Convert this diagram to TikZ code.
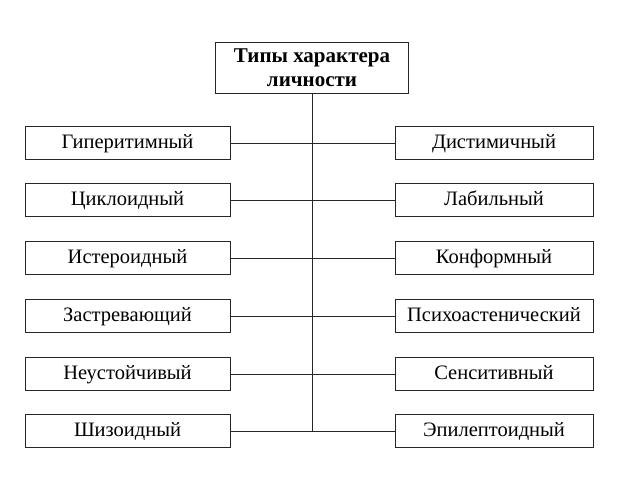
\documentclass[tikz,border=0pt]{standalone}
\usepackage{fontspec}
\setmainfont{Liberation Serif}
\begin{document}
\begin{tikzpicture}[x=1pt,y=-1pt,
  typebox/.style={draw=black!85,line width=1pt,minimum width=205pt,minimum height=33pt,inner sep=0pt,text height=14pt,text depth=3pt,font=\fontsize{20.5}{24}\selectfont},
  rtypebox/.style={typebox,minimum width=198pt},
  link/.style={draw=black!85,line width=0.9pt}]
\useasboundingbox (0,0) rectangle (622,488);
\node[draw=black!85,line width=1pt,minimum width=193pt,minimum height=51pt,align=center,inner sep=0pt,font=\bfseries\fontsize{21}{24}\selectfont] (top) at (312,67.5) {Типы характера\\личности};
\node[typebox] (l1) at (127.5,143) {Гиперитимный};
\node[typebox] (l2) at (127.5,200) {Циклоидный};
\node[typebox] (l3) at (127.5,258) {Истероидный};
\node[typebox] (l4) at (127.5,316) {Застревающий};
\node[typebox] (l5) at (127.5,374) {Неустойчивый};
\node[typebox] (l6) at (127.5,431) {Шизоидный};
\node[rtypebox] (r1) at (494,143) {Дистимичный};
\node[rtypebox] (r2) at (494,200) {Лабильный};
\node[rtypebox] (r3) at (494,258) {Конформный};
\node[rtypebox] (r4) at (494,316) {Психоастенический};
\node[rtypebox] (r5) at (494,374) {Сенситивный};
\node[rtypebox] (r6) at (494,431) {Эпилептоидный};
\coordinate (bot) at (312,431);
\draw[link] (top.south) -- (bot);
\foreach \i in {1,...,6} {\draw[link] (l\i.east) -- (r\i.west);}
\end{tikzpicture}
\end{document}
